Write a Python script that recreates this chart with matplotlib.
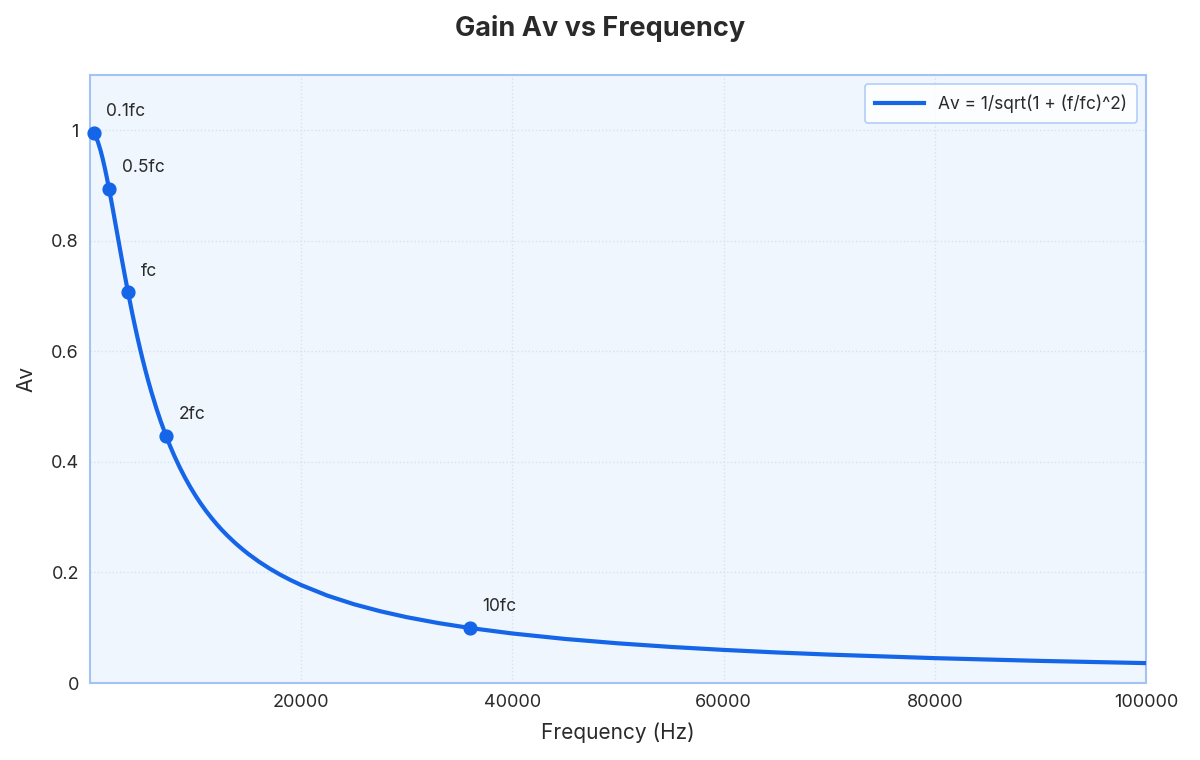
import matplotlib
matplotlib.use('Agg')
import matplotlib.pyplot as plt

plt.rcParams['font.family'] = ['Inter', 'DejaVu Sans']

# frequency (Hz) and gain
freq = [0, 250, 360, 500, 750, 1000, 1200, 1400, 1600, 1800, 2100, 2500, 2800,
        3000, 3300, 3600, 4000, 4250, 4500, 4750, 5000, 5250, 5500, 5800, 6300,
        6700, 7200, 7600, 8000, 8500, 9000, 9500, 10000, 10500, 11000, 11500,
        12000, 12500, 13000, 13750, 14500, 15000, 16000, 17000, 18000, 19000,
        20000, 22500, 25000, 27500, 30000, 33000, 36000, 40000, 45000, 50000,
        55000, 60000, 65000, 70000, 80000, 90000, 100000]
gain = [1.0, 0.9976, 0.995, 0.9905, 0.979, 0.9635, 0.9487, 0.932, 0.9138, 0.8944,
        0.8638, 0.8213, 0.7894, 0.7682, 0.7372, 0.7071, 0.669, 0.6463, 0.6247,
        0.604, 0.5843, 0.5655, 0.5477, 0.5274, 0.4961, 0.4733, 0.4472, 0.4281,
        0.4104, 0.39, 0.3714, 0.3544, 0.3387, 0.3243, 0.311, 0.2988, 0.2873,
        0.2767, 0.2669, 0.2533, 0.241, 0.2334, 0.2195, 0.2072, 0.1961, 0.1862,
        0.1772, 0.158, 0.1425, 0.1298, 0.1191, 0.1084, 0.0995, 0.0896, 0.0797,
        0.0718, 0.0653, 0.0599, 0.0553, 0.0514, 0.045, 0.04, 0.036]

# marked points
pt_labels = ['0.1fc', '0.5fc', 'fc', '2fc', '10fc']
pt_freq = [360, 1800, 3600, 7200, 36000]
pt_gain = [0.995, 0.8944, 0.7071, 0.4472, 0.0995]

x_ticks = [20000, 40000, 60000, 80000, 100000]
y_ticks = [0, 0.2, 0.4, 0.6, 0.8, 1]
y_tick_labels = ['0', '0.2', '0.4', '0.6', '0.8', '1']

blue = '#1565E8'
border = '#A3C3F5'
text_col = '#2A2A2A'

fig = plt.figure(figsize=(12, 7.6), dpi=100)
ax = fig.add_axes([0.075, 0.1013, 0.88, 0.8])
ax.set_facecolor('#F0F6FD')

ax.plot(freq, gain, color=blue, linewidth=3, label='Av = 1/sqrt(1 + (f/fc)^2)',
        zorder=3, solid_joinstyle='round')
ax.scatter(pt_freq, pt_gain, s=85, color=blue, zorder=4, clip_on=False)
for lab, x, y in zip(pt_labels, pt_freq, pt_gain):
    ax.annotate(lab, (x, y), xytext=(9, 12), textcoords='offset points',
                fontsize=12.5, color=text_col)

ax.set_xlim(0, 100000)
ax.set_ylim(0, 1.1)
ax.set_xticks(x_ticks)
ax.set_xticklabels([str(v) for v in x_ticks])
ax.set_yticks(y_ticks)
ax.set_yticklabels(y_tick_labels)
ax.tick_params(length=0, labelsize=13, labelcolor=text_col, pad=8)
ax.grid(True, linestyle=':', color='#D5E2F2', linewidth=1)
ax.set_axisbelow(True)
for s in ax.spines.values():
    s.set_color(border)
    s.set_linewidth(1.5)

ax.set_xlabel('Frequency (Hz)', fontsize=15, color=text_col, labelpad=8)
ax.set_ylabel('Av', fontsize=15, color=text_col, labelpad=10)
fig.suptitle('Gain Av vs Frequency', fontsize=19.5, fontweight='bold', color=text_col, y=0.98)

leg = ax.legend(loc='upper right', fontsize=12.5, frameon=True, fancybox=True,
                edgecolor=border, facecolor='white', handlelength=2.8, borderpad=0.6)
leg.get_frame().set_linewidth(1.2)
for t in leg.get_texts():
    t.set_color(text_col)

fig.savefig('out.png', dpi=100)
